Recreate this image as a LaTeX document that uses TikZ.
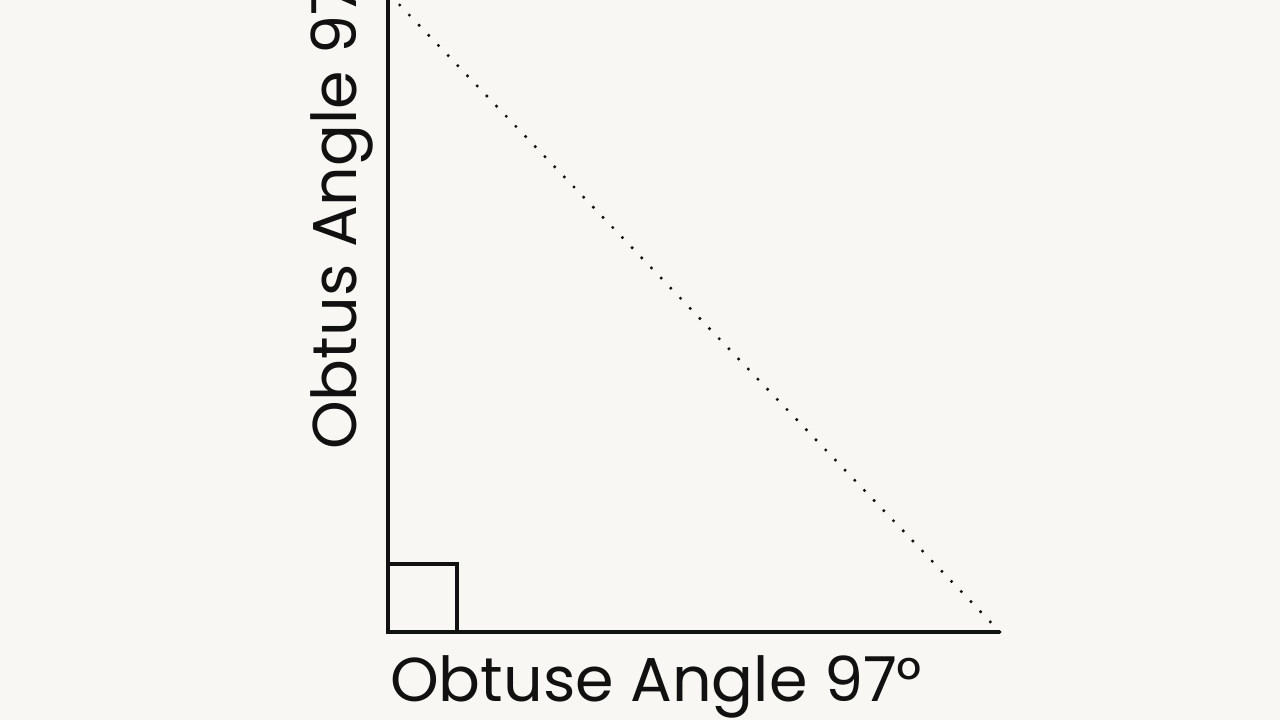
\documentclass[tikz,border=0pt]{standalone}
\usepackage{fontspec}
\setmainfont{Poppins}
\definecolor{paper}{HTML}{F9F7F3}
\definecolor{ink}{HTML}{111111}
\begin{document}
\begin{tikzpicture}[x=1pt, y=1pt,
	side/.style={ink, line width=3.8pt},
	hyp/.style={ink, line width=3.4pt, line cap=round, dash pattern=on 0pt off 14pt},
	lbl/.style={ink, inner sep=0pt, font=\fontsize{62}{70}\selectfont}]
	\fill [paper] (0, 0) rectangle (1280, 720);
	\useasboundingbox (0, 0) rectangle (1280, 720);
	\coordinate (top) at (388, 722);
	\coordinate (corner) at (388, 88);
	\coordinate (right) at (1000, 88);
	\coordinate (hyptop) at (393, 722);
	\draw [side] (top) -- (corner) -- (right);
	\draw [hyp] (right) -- (hyptop);
	\draw [ink, line width=3.4pt] (corner) rectangle ++(69, 68);
	\node [lbl, anchor=base west] (base) at (390, 18) {Obtuse Angle 97°};
	\node [lbl, anchor=base west, rotate=90] (leg) at (356, 270) {Obtus Angle 97°};
\end{tikzpicture}
\end{document}
